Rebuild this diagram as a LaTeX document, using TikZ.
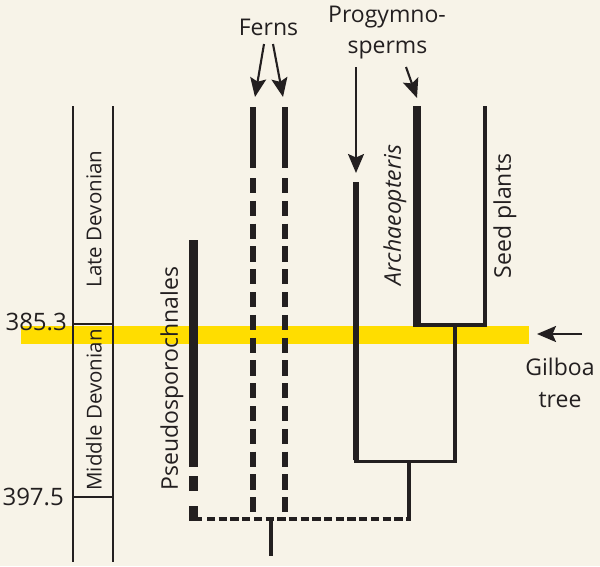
\documentclass[tikz,border=0pt]{standalone}
\usepackage{fontspec}
\setmainfont{Open Sans}
\usetikzlibrary{arrows.meta}
\definecolor{bg}{HTML}{F7F3E8}
\definecolor{band}{HTML}{FFDD00}
\definecolor{ink}{HTML}{231F20}
\begin{document}
\begin{tikzpicture}[x=1pt,y=-1pt,
  lbl/.style={font=\fontsize{23}{31}\selectfont, text=ink, inner sep=0pt},
  numlbl/.style={font=\fontsize{24}{30}\selectfont, text=ink, inner sep=0pt, anchor=base east},
  rlbl/.style={lbl, rotate=90},
  era/.style={font=\fontsize{20.5}{25}\selectfont, text=ink, inner sep=0pt, rotate=90},
  scale line/.style={draw=ink, line width=1.5pt},
  thin branch/.style={draw=ink, line width=3.4pt, line join=miter},
  fossil range/.style={draw=ink, line width=5.5pt},
  fernline/.style={draw=ink, line width=5.3pt},
  fern dash/.style={fernline, dash pattern=on 15.2pt off 7.6pt},
  root dash/.style={draw=ink, line width=3.6pt, dash pattern=on 8.3pt off 3.4pt},
  callout/.style={draw=ink, line width=2.1pt, -{Stealth[length=19pt,width=16pt,inset=3.5pt]}},
]
\useasboundingbox (0,0) rectangle (600,566);
\fill[bg] (0,0) rectangle (600,566);
% yellow band
\fill[band] (21,325.5) rectangle (529,343.5);
% timescale
\coordinate (tl1) at (73,106); \coordinate (tl2) at (73,562);
\coordinate (tr1) at (113,106); \coordinate (tr2) at (113,562);
\draw[scale line] (tl1) -- (tl2);
\draw[scale line] (tr1) -- (tr2);
\coordinate (h1a) at (73,324); \coordinate (h1b) at (113,324);
\coordinate (h2a) at (73,497); \coordinate (h2b) at (113,497);
\draw[scale line] (h1a) -- (h1b);
\draw[scale line] (h2a) -- (h2b);
\node[numlbl] (t1) at (67,330) {385.3};
\node[numlbl] (t2) at (64,505) {397.5};
\node[era] (late) at (94,219) {Late Devonian};
\node[era] (mid) at (94,410) {Middle Devonian};
% Pseudosporochnales
\coordinate (ps1) at (193.5,240); \coordinate (ps2) at (193.5,467);
\coordinate (ps3) at (193.5,476); \coordinate (ps4) at (193.5,491);
\coordinate (ps5) at (193.5,506); \coordinate (ps6) at (193.5,521);
\draw[ink, line width=9pt] (ps1) -- (ps2);
\draw[ink, line width=9pt] (ps3) -- (ps4);
\draw[ink, line width=9pt] (ps5) -- (ps6);
\node[rlbl] (pslab) at (172,378.5) {Pseudosporochnales};
% root dashed line
\coordinate (rc) at (189,519); \coordinate (rl) at (207,519); \coordinate (rr) at (410.5,519);
\draw[ink, line width=3.6pt] (rc) -- (202,519);
\draw[root dash] (rl) -- (rr);
\coordinate (root) at (271,519); \coordinate (rootb) at (271,556);
\draw[ink, line width=4pt] (root) -- (rootb);
% Ferns
\coordinate (f1a) at (253,107); \coordinate (f1b) at (253,168);
\coordinate (f1c) at (253,513);
\coordinate (f2a) at (285,107); \coordinate (f2b) at (285,168);
\coordinate (f2c) at (285,513);
\draw[fernline] (f1a) -- (f1b);
\draw[fernline] (f2a) -- (f2b);
\draw[fern dash] (253,178) -- (f1c);
\draw[fern dash] (285,178) -- (f2c);
\node[lbl, anchor=base] (ferns) at (268.5,35) {Ferns};
\coordinate (fa1) at (264,44); \coordinate (fa1e) at (255,97);
\coordinate (fa2) at (273,44); \coordinate (fa2e) at (283,97);
\draw[callout] (fa1) -- (fa1e);
\draw[callout] (fa2) -- (fa2e);
% Progymnosperms / seed plants
\coordinate (pl1) at (356,182); \coordinate (pl2) at (356,461.5);
\coordinate (pr) at (455,461.5); \coordinate (pr1) at (455,325);
\coordinate (pn) at (409,461.5); \coordinate (pnb) at (409,519);
\draw[fossil range] (pl1) -- (356,460);
\draw[thin branch] (353.5,461.5) -- (pr) -- (pr1);
\draw[thin branch] (pn) -- (pnb) -- (rr);
\coordinate (ar1) at (417,106); \coordinate (ar2) at (417,327);
\draw[ink, line width=8.6pt] (ar1) -- (ar2);
\coordinate (sp1) at (485,106); \coordinate (sp2) at (485,325);
\draw[thin branch] (417,325) -- (sp2) -- (sp1);
\node[rlbl, font=\fontsize{23}{31}\selectfont\itshape] (arch) at (395,215) {Archaeopteris};
\node[rlbl] (seed) at (505,216) {Seed plants};
\node[lbl, anchor=base] (prog1) at (387,22) {Progymno-};
\node[lbl, anchor=base] (prog2) at (387.5,53) {sperms};
\coordinate (pa1) at (356,67); \coordinate (pa1e) at (356,173);
\coordinate (pa2) at (406,67); \coordinate (pa2e) at (417,98);
\draw[callout] (pa1) -- (pa1e);
\draw[callout] (pa2) -- (pa2e);
% Gilboa
\coordinate (ga) at (582,334); \coordinate (gae) at (537,334);
\draw[callout] (ga) -- (gae);
\node[lbl, anchor=base] (gil1) at (560,375) {Gilboa};
\node[lbl, anchor=base] (gil2) at (560,407) {tree};
\end{tikzpicture}
\end{document}
